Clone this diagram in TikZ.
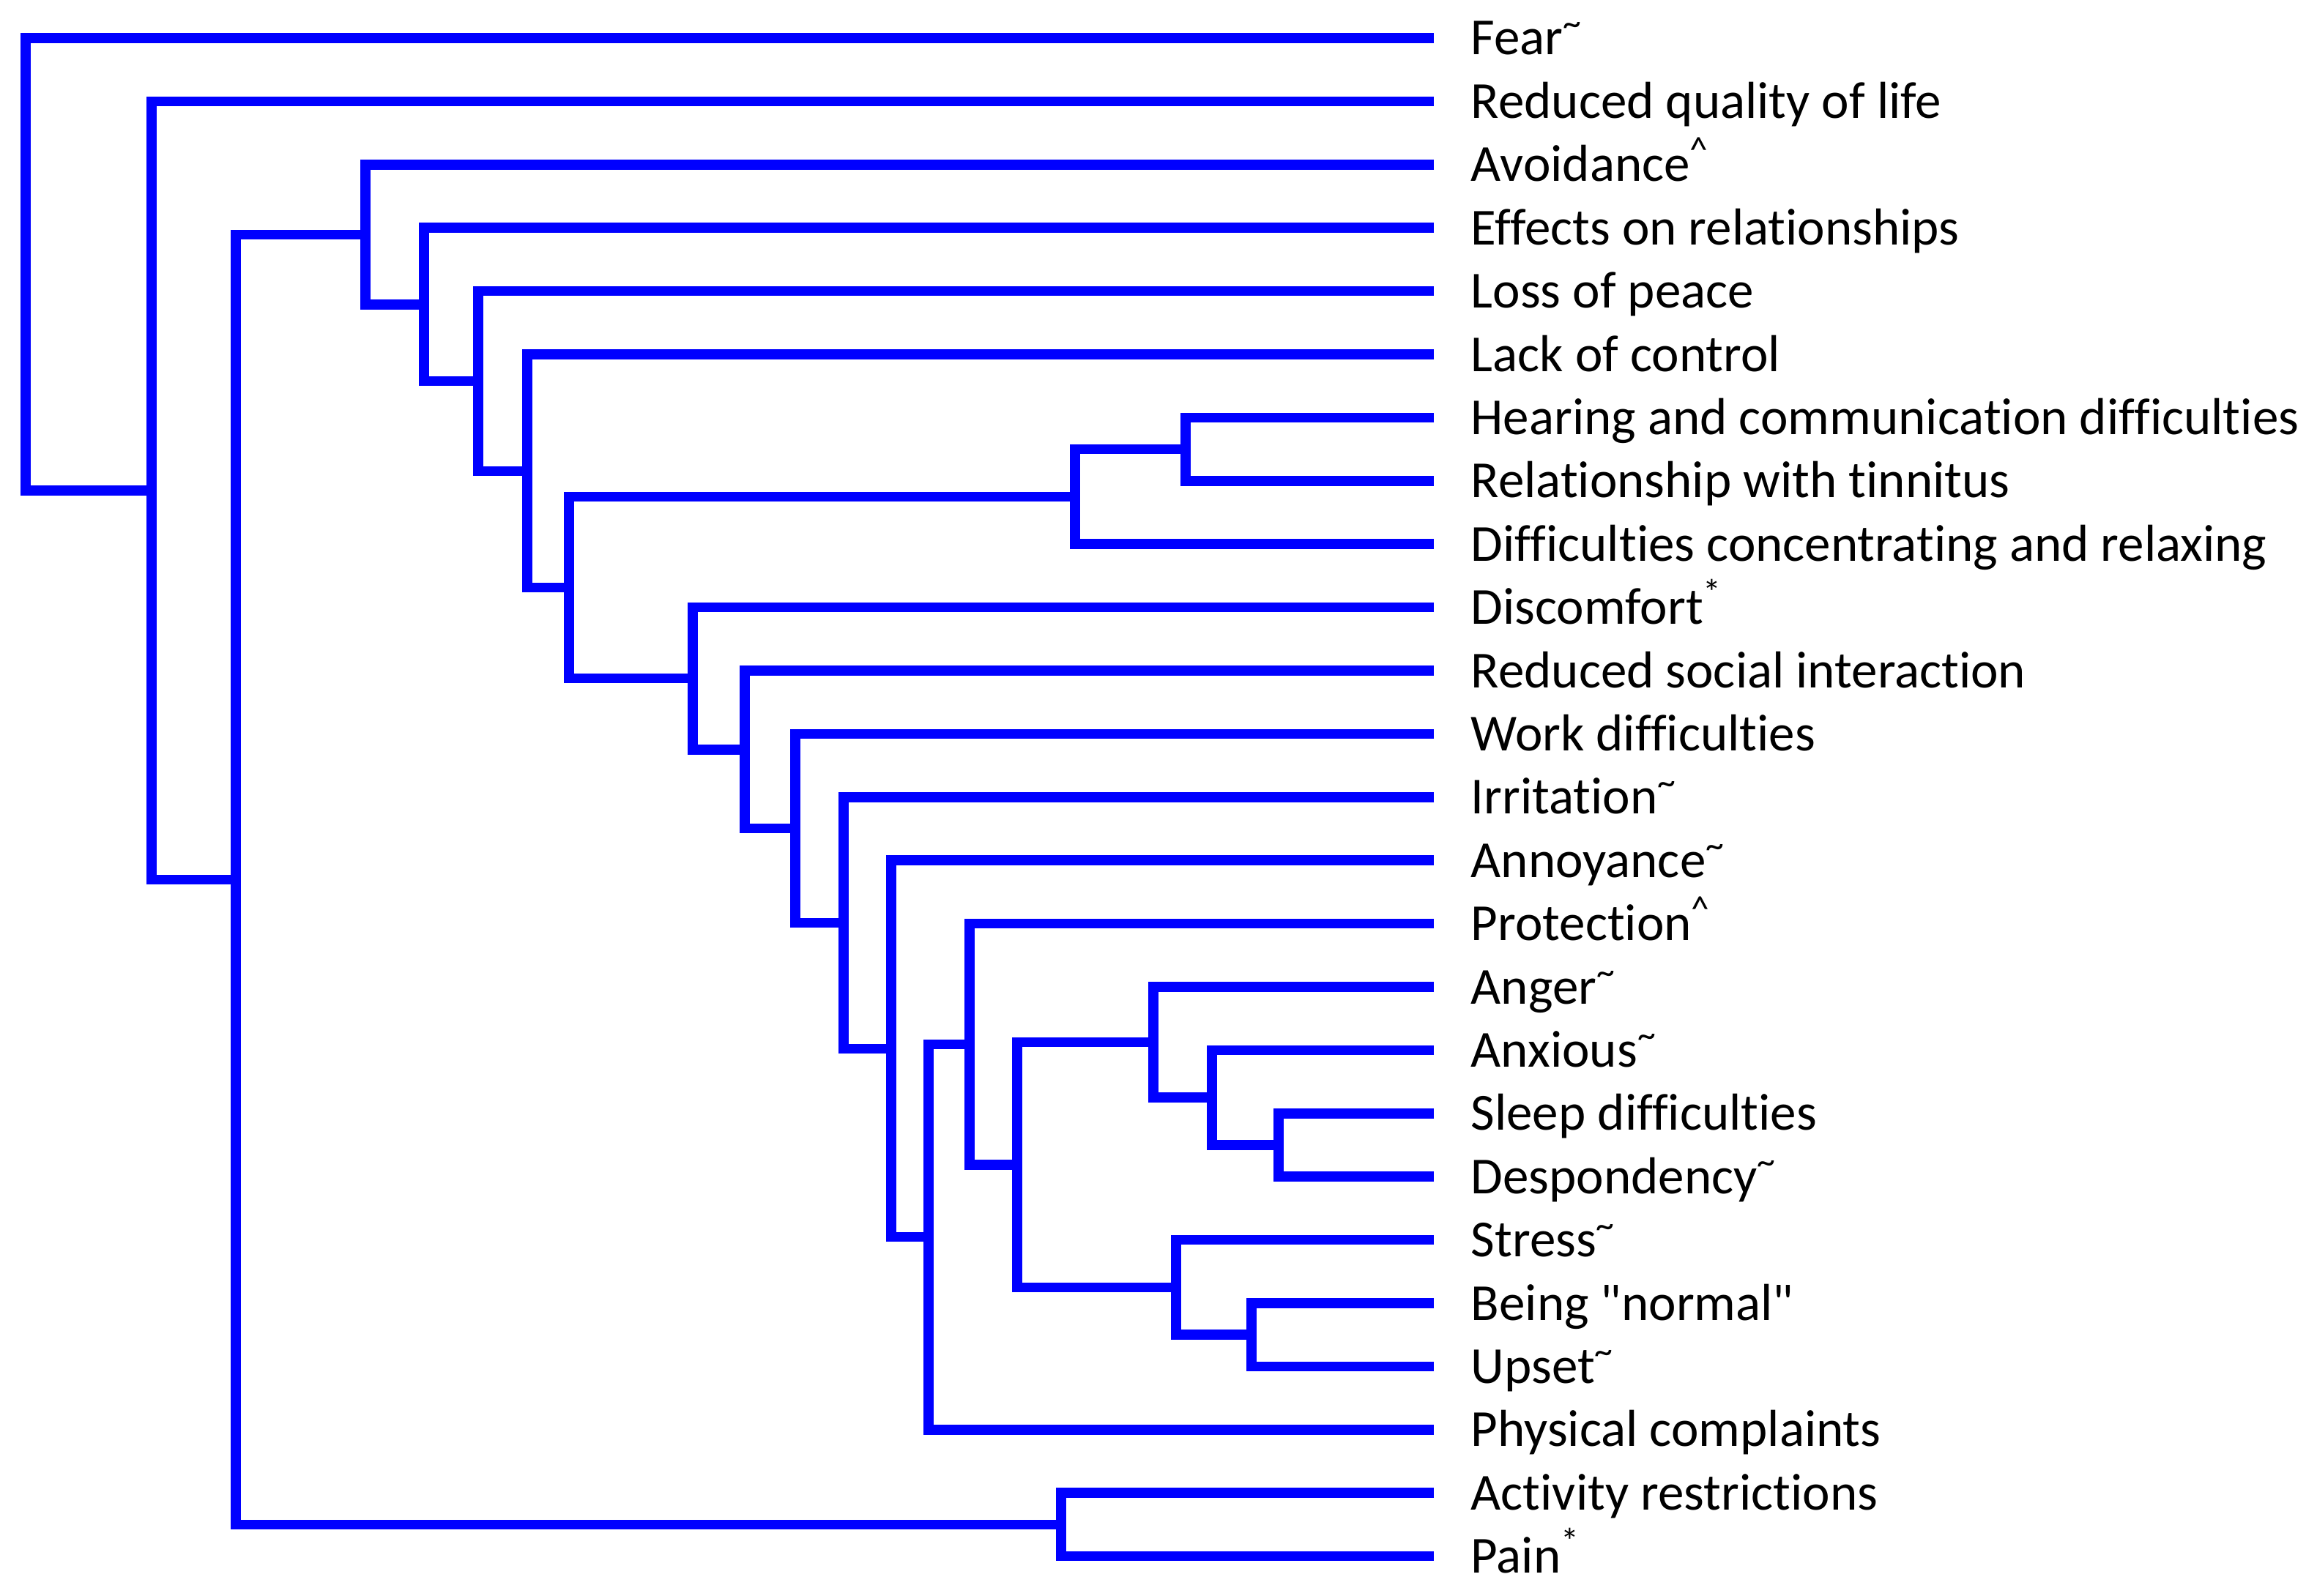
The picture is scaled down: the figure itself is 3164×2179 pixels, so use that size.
\documentclass[tikz,border=0pt]{standalone}
\usepackage{fontspec}
\setmainfont[RawFeature={-liga;-clig}]{Carlito}
\definecolor{treeblue}{RGB}{0,0,255}
\begin{document}
\begin{tikzpicture}[x=0.01cm,y=-0.01cm,
  branch/.style={draw=treeblue,line width=0.135cm,line join=miter,line cap=butt},
  lab/.style={anchor=base west,inner sep=0pt,font=\fontsize{20.2pt}{24pt}\selectfont,text=black}]
\useasboundingbox[fill=white] (0,0) rectangle (3164,2179);
% leaf ends and labels
\foreach \i/\t in {1/{Fear\textsuperscript{\textasciitilde}},
  2/{Reduced quality of life},
  3/{Avoidance\textsuperscript{\textasciicircum}},
  4/{Effects on relationships},
  5/{Loss of peace},
  6/{Lack of control},
  7/{Hearing and communication difficulties},
  8/{Relationship with tinnitus},
  9/{Difficulties concentrating and relaxing},
  10/{Discomfort\textsuperscript{*}},
  11/{Reduced social interaction},
  12/{Work difficulties},
  13/{Irritation\textsuperscript{\textasciitilde}},
  14/{Annoyance\textsuperscript{\textasciitilde}},
  15/{Protection\textsuperscript{\textasciicircum}},
  16/{Anger\textsuperscript{\textasciitilde}},
  17/{Anxious\textsuperscript{\textasciitilde}},
  18/{Sleep difficulties},
  19/{Despondency\textsuperscript{\textasciitilde}},
  20/{Stress\textsuperscript{\textasciitilde}},
  21/{Being \textquotedbl normal\textquotedbl},
  22/{Upset\textsuperscript{\textasciitilde}},
  23/{Physical complaints},
  24/{Activity restrictions},
  25/{Pain\textsuperscript{*}}}{
  \pgfmathsetmacro{\yy}{52+(\i-1)*86.4}
  \coordinate (e\i) at (1958,\yy);
  \node[lab] (t\i) at (2008,\yy+23) {\t};
}
% internal nodes
\coordinate (nhh) at (1619,613.6);
\coordinate (nh) at (1468,678.4);
\coordinate (nt) at (1746,1564);
\coordinate (ns) at (1655,1499.2);
\coordinate (nq) at (1575,1423.6);
\coordinate (nu) at (1709,1823.2);
\coordinate (nr) at (1606,1758.4);
\coordinate (np) at (1389,1591);
\coordinate (no) at (1324,1426.3);
\coordinate (nn) at (1268,1689.55);
\coordinate (nm) at (1217,1432.4);
\coordinate (nl) at (1152,1260.6);
\coordinate (nk) at (1086,1131.5);
\coordinate (nj) at (1017,1023.75);
\coordinate (ni) at (946,926.7);
\coordinate (ng) at (777,802.55);
\coordinate (nf) at (720,643.3);
\coordinate (ne) at (653,520.45);
\coordinate (nd) at (579,415.8);
\coordinate (nc) at (499,320.3);
\coordinate (npa) at (1449,2082.4);
\coordinate (nb) at (322,1201.35);
\coordinate (na) at (207,669.9);
\coordinate (nroot) at (35,361);
% brackets
\draw[branch] (e1) -| (nroot) |- (na);
\draw[branch] (e2) -| (na) |- (nb);
\draw[branch] (nc) -| (nb) |- (npa);
\draw[branch] (e24) -| (npa) |- (e25);
\draw[branch] (e3) -| (nc) |- (nd);
\draw[branch] (e4) -| (nd) |- (ne);
\draw[branch] (e5) -| (ne) |- (nf);
\draw[branch] (e6) -| (nf) |- (ng);
\draw[branch] (nh) -| (ng) |- (ni);
\draw[branch] (nhh) -| (nh) |- (e9);
\draw[branch] (e7) -| (nhh) |- (e8);
\draw[branch] (e10) -| (ni) |- (nj);
\draw[branch] (e11) -| (nj) |- (nk);
\draw[branch] (e12) -| (nk) |- (nl);
\draw[branch] (e13) -| (nl) |- (nm);
\draw[branch] (e14) -| (nm) |- (nn);
\draw[branch] (no) -| (nn) |- (e23);
\draw[branch] (e15) -| (no) |- (np);
\draw[branch] (nq) -| (np) |- (nr);
\draw[branch] (e16) -| (nq) |- (ns);
\draw[branch] (e17) -| (ns) |- (nt);
\draw[branch] (e18) -| (nt) |- (e19);
\draw[branch] (e20) -| (nr) |- (nu);
\draw[branch] (e21) -| (nu) |- (e22);
\end{tikzpicture}
\end{document}
